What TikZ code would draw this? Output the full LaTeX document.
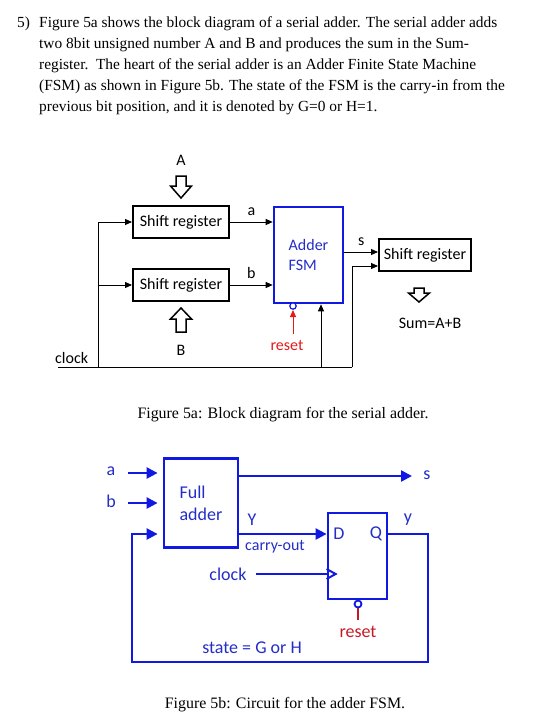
\documentclass[tikz,border=0pt]{standalone}
\usepackage{fontspec}
\setmainfont{Liberation Serif}
\newfontfamily\calibri{Carlito}
\usepackage{xcolor}
\usetikzlibrary{arrows.meta,positioning}
\definecolor{fsmblue}{RGB}{15,25,225}
\definecolor{txtblue}{RGB}{35,45,200}
\definecolor{resetred}{RGB}{230,25,25}
\definecolor{darkred}{RGB}{200,25,35}

\tikzset{
  reg/.style={draw, line width=2pt, minimum width=96pt, minimum height=32pt, inner sep=0pt,
    font=\calibri\fontsize{16}{16}\selectfont},
  lbl/.style={inner sep=0pt, font=\calibri\fontsize{16}{16}\selectfont},
  blbl/.style={lbl, text=txtblue, font=\calibri\fontsize{18}{20}\selectfont},
  wire/.style={line width=0.9pt, -{Triangle[length=7pt,width=6pt]}},
  bwire/.style={draw=fsmblue, line width=2.4pt},
  barrow/.style={bwire, -{Triangle[length=11pt,width=11pt]}},
  pics/hollow/.style args={#1/#2}{code={
    \draw[line width=1.5pt, line join=miter] (-5,-#1) -- (5,-#1) -- (5,-#2) -- (10.5,-#2)
      -- (0,0) -- (-10.5,-#2) -- (-5,-#2) -- cycle;}}
}

\begin{document}
\begin{tikzpicture}[x=1pt, y=-1pt]
	\useasboundingbox (0,0) rectangle (538,725);
	% question text
	\node[anchor=base west, inner sep=0pt, font=\fontsize{15.4}{15}\selectfont] (num) at (17,28) {5)};
	\foreach \txt [count=\i] in {
		{Figure 5a shows the block diagram of a serial adder. The serial adder adds},
		{two 8bit unsigned number A and B and produces the sum in the Sum-},
		{register.\ \ The heart of the serial adder is an Adder Finite State Machine},
		{(FSM) as shown in Figure 5b. The state of the FSM is the carry-in from the},
		{previous bit position, and it is denoted by G=0 or H=1.}}
		\node[anchor=base west, inner sep=0pt, font=\fontsize{15.4}{15}\selectfont] (line\i) at (39,{28+20.8*(\i-1)}) {\txt};

	% Figure 5a
	\node[lbl] (A) at (181,160) {A};
	\pic at (181,198) {hollow=22/12};
	\node[reg] (regA) at (181,222) {Shift register};
	\node[reg] (regB) at (181,285) {Shift register};
	\pic[rotate=180] at (181,308) {hollow=24/11};
	\node[lbl] (B) at (181,350) {B};
	\node[draw=fsmblue, line width=2.6pt, minimum width=69pt, minimum height=96pt, inner sep=0pt,
		align=left, text=txtblue, font=\calibri\fontsize{16}{20}\selectfont] (fsm) at (308.5,255) {Adder\\FSM};
	\node[reg, minimum width=92pt] (regS) at (425,255) {Shift register};
	\pic at (419,302) {hollow=14/9};
	\node[lbl] (sum) at (430,323) {Sum=A+B};
	\node[lbl, anchor=base west] (clklbl) at (55,363) {clock};

	\draw[wire] (regA.east) -- node[lbl, above=6pt] (a) {a} (regA.east -| fsm.west);
	\draw[wire] (regB.east) -- node[lbl, above=6pt] (b) {b} (regB.east -| fsm.west);
	\draw[wire] ([yshift=3pt]fsm.east) -- node[lbl, above=6pt] (s) {s} ([yshift=3pt]regS.west);

	\coordinate (clkL) at (58,367);
	\coordinate (clkA) at (98,367);
	\coordinate (clkF) at (321,367);
	\coordinate (clkS) at (352,367);
	\draw[line width=0.9pt] (clkL) -- (clkS);
	\draw[wire] (clkA) |- (regA.west);
	\draw[wire] (clkA |- regB.west) -- (regB.west);
	\draw[wire] (clkF) -- (clkF |- fsm.south);
	\draw[wire] (clkS) |- ([yshift=-11pt]regS.west);

	\draw[fsmblue, line width=1.2pt, fill=white] (293,306) circle (3.2pt) coordinate (rstA);
	\node[lbl, text=resetred] (reset1) at (287,345) {reset};
	\draw[resetred, line width=1pt, -{Triangle[length=7pt,width=6pt]}] (293,334) -- (293,310);

	\node[font=\fontsize{15.9}{16}\selectfont] (cap1) at (283,415) {Figure 5a: Block diagram for the serial adder.};

	% Figure 5b
	\node[draw=fsmblue, line width=2.8pt, minimum width=74pt, minimum height=89pt, inner sep=0pt,
		align=left, text=txtblue, font=\calibri\fontsize{18}{22}\selectfont] (fa) at (201,503) {Full\\adder};
	\node[draw=fsmblue, line width=2.8pt, minimum width=59pt, minimum height=86pt, inner sep=0pt] (dff) at (357.5,556) {};
	\node[blbl] (D) at (339,534) {D};
	\node[blbl] (Q) at (376,534) {Q};

	\node[blbl] (ain) at (111,471) {a};
	\node[blbl] (bin) at (111,501) {b};
	\draw[barrow, shorten >=5pt] (128,473) -- (fa.west |- 0,473);
	\draw[barrow, shorten >=5pt] (128,503) -- (fa.west |- 0,503);

	\coordinate (sout) at (412,476);
	\draw[barrow] (fa.east |- sout) -- (sout);
	\node[blbl] (sname) at (427,475) {s};

	\draw[barrow] (fa.east |- D) -- (dff.west |- D);
	\node[blbl] (Y) at (252,520) {Y};
	\node[blbl, font=\calibri\fontsize{16}{16}\selectfont] (cout) at (275,547) {carry-out};

	\coordinate (fbR) at (428,662);
	\coordinate (fbL) at (132,662);
	\draw[barrow, shorten >=5pt] (dff.east |- Q) -- (fbR |- Q) -- (fbR) -- (fbL) -- (fbL |- Q) -- (fa.west |- Q);
	\node[blbl] (y) at (408,520) {y};
	\node[blbl] (state) at (252,648) {state = G or H};

	\node[blbl] (clk) at (228,574) {clock};
	\draw[bwire] ([xshift=9pt]clk.east) -- (dff.west |- clk);
	\draw[bwire, line width=2pt] ([yshift=5pt]dff.west |- clk) -- ([xshift=9pt]dff.west |- clk) -- ([yshift=-5pt]dff.west |- clk);

	\draw[darkred, line width=2.6pt] (358,608) -- (358,620);
	\draw[fsmblue, line width=1.8pt, fill=white] (358,604) circle (3.5pt) coordinate (rstB);
	\node[lbl, text=darkred, font=\calibri\fontsize{18}{18}\selectfont] (reset2) at (358,632) {reset};

	\node[font=\fontsize{15.9}{16}\selectfont] (cap2) at (285,705) {Figure 5b: Circuit for the adder FSM.};
\end{tikzpicture}
\end{document}
